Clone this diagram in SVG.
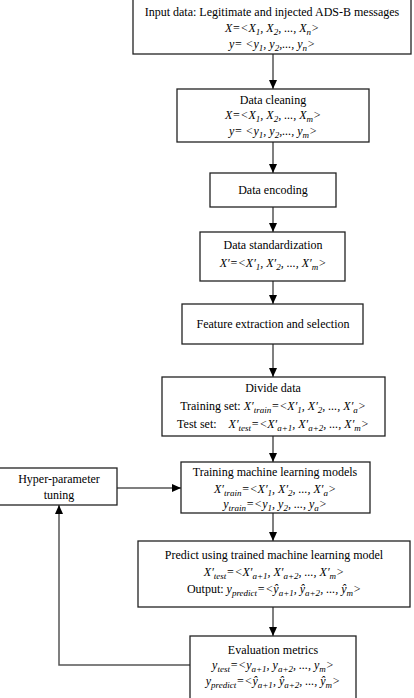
<svg xmlns="http://www.w3.org/2000/svg" width="414" height="698" viewBox="0 0 414 698">
<style>
text{font-family:"Liberation Serif","Times New Roman",serif;font-size:12px;fill:#000;text-anchor:middle;white-space:pre}
.i{font-style:italic}
.s{font-size:9px;baseline-shift:-3px}
.box{fill:#fff;stroke:#222;stroke-width:1.3}
.c{fill:none;stroke:#555;stroke-width:1.5}
</style>
<defs>
<marker id="ah" markerWidth="10" markerHeight="10" refX="9" refY="5" orient="auto" markerUnits="userSpaceOnUse">
<path d="M0,1 L9,5 L0,9 z" fill="#000"/>
</marker>
</defs>
<rect width="414" height="698" fill="#fff"/>
<g id="connectors">
<line class="c" x1="273" y1="54" x2="273" y2="89" marker-end="url(#ah)"/>
<line class="c" x1="273" y1="142" x2="273" y2="173" marker-end="url(#ah)"/>
<line class="c" x1="273" y1="207" x2="273" y2="232" marker-end="url(#ah)"/>
<line class="c" x1="273" y1="281" x2="273" y2="304" marker-end="url(#ah)"/>
<line class="c" x1="273" y1="344" x2="273" y2="377" marker-end="url(#ah)"/>
<line class="c" x1="273" y1="436" x2="273" y2="462" marker-end="url(#ah)"/>
<line class="c" x1="273" y1="513" x2="273" y2="541" marker-end="url(#ah)"/>
<line class="c" x1="273" y1="607" x2="273" y2="636" marker-end="url(#ah)"/>
<line class="c" x1="117" y1="488" x2="181" y2="488" marker-end="url(#ah)"/>
<polyline class="c" points="190,665 59,665 59,505" marker-end="url(#ah)"/>
</g>
<g id="input">
<rect class="box" x="133" y="-1" width="278" height="55"/>
<text x="272" y="16">Input data: Legitimate and injected ADS-B messages</text>
<text x="272" y="32" class="i">X=&lt;X<tspan class="s">1</tspan>, X<tspan class="s">2</tspan>, ..., X<tspan class="s">n</tspan>&gt;</text>
<text x="272" y="48" class="i">y= &lt;y<tspan class="s">1</tspan>, y<tspan class="s">2</tspan>,..., y<tspan class="s">n</tspan>&gt;</text>
</g>
<g id="cleaning">
<rect class="box" x="177" y="89" width="192" height="53"/>
<text x="273" y="104">Data cleaning</text>
<text x="273" y="119" class="i">X=&lt;X<tspan class="s">1</tspan>, X<tspan class="s">2</tspan>, ..., X<tspan class="s">m</tspan>&gt;</text>
<text x="273" y="135" class="i">y= &lt;y<tspan class="s">1</tspan>, y<tspan class="s">2</tspan>,..., y<tspan class="s">m</tspan>&gt;</text>
</g>
<g id="encoding">
<rect class="box" x="210" y="173" width="126" height="34"/>
<text x="273" y="194">Data encoding</text>
</g>
<g id="standardization">
<rect class="box" x="200" y="232" width="145" height="49"/>
<text x="273" y="249">Data standardization</text>
<text x="273" y="267" class="i">X′=&lt;X′<tspan class="s">1</tspan>, X′<tspan class="s">2</tspan>, ..., X′<tspan class="s">m</tspan>&gt;</text>
</g>
<g id="feature">
<rect class="box" x="182" y="304" width="181" height="40"/>
<text x="273" y="328">Feature extraction and selection</text>
</g>
<g id="divide">
<rect class="box" x="162" y="377" width="223" height="59"/>
<text x="273" y="392">Divide data</text>
<text x="273" y="410">Training set: <tspan class="i">X′<tspan class="s">train</tspan>=&lt;X′<tspan class="s">1</tspan>, X′<tspan class="s">2</tspan>, ..., X′<tspan class="s">a</tspan>&gt;</tspan></text>
<text x="273" y="428">Test set:    <tspan class="i">X′<tspan class="s">test</tspan>=&lt;X′<tspan class="s">a+1</tspan>, X′<tspan class="s">a+2</tspan>, ..., X′<tspan class="s">m</tspan>&gt;</tspan></text>
</g>
<g id="hyper">
<rect class="box" x="-1" y="468" width="118" height="37"/>
<text x="59" y="483">Hyper-parameter</text>
<text x="59" y="499">tuning</text>
</g>
<g id="training">
<rect class="box" x="181" y="462" width="189" height="51"/>
<text x="275" y="476">Training machine learning models</text>
<text x="275" y="493" class="i">X′<tspan class="s">train</tspan>=&lt;X′<tspan class="s">1</tspan>, X′<tspan class="s">2</tspan>, ..., X′<tspan class="s">a</tspan>&gt;</text>
<text x="275" y="508" class="i">y<tspan class="s">train</tspan>=&lt;y<tspan class="s">1</tspan>, y<tspan class="s">2</tspan>, ..., y<tspan class="s">a</tspan>&gt;</text>
</g>
<g id="predict">
<rect class="box" x="138" y="541" width="272" height="66"/>
<text x="274" y="559">Predict using trained machine learning model</text>
<text x="274" y="576" class="i">X′<tspan class="s">test</tspan>=&lt;X′<tspan class="s">a+1</tspan>, X′<tspan class="s">a+2</tspan>, ..., X′<tspan class="s">m</tspan>&gt;</text>
<text x="274" y="593">Output: <tspan class="i">y<tspan class="s">predict</tspan>=&lt;ŷ<tspan class="s">a+1</tspan>, ŷ<tspan class="s">a+2</tspan>, ..., ŷ<tspan class="s">m</tspan>&gt;</tspan></text>
</g>
<g id="evaluation">
<rect class="box" x="190" y="636" width="166" height="66"/>
<text x="273" y="654">Evaluation metrics</text>
<text x="273" y="669" class="i">y<tspan class="s">test</tspan>=&lt;y<tspan class="s">a+1</tspan>, y<tspan class="s">a+2</tspan>, ..., y<tspan class="s">m</tspan>&gt;</text>
<text x="273" y="685" class="i">y<tspan class="s">predict</tspan>=&lt;ŷ<tspan class="s">a+1</tspan>, ŷ<tspan class="s">a+2</tspan>, ..., ŷ<tspan class="s">m</tspan>&gt;</text>
</g>
</svg>
